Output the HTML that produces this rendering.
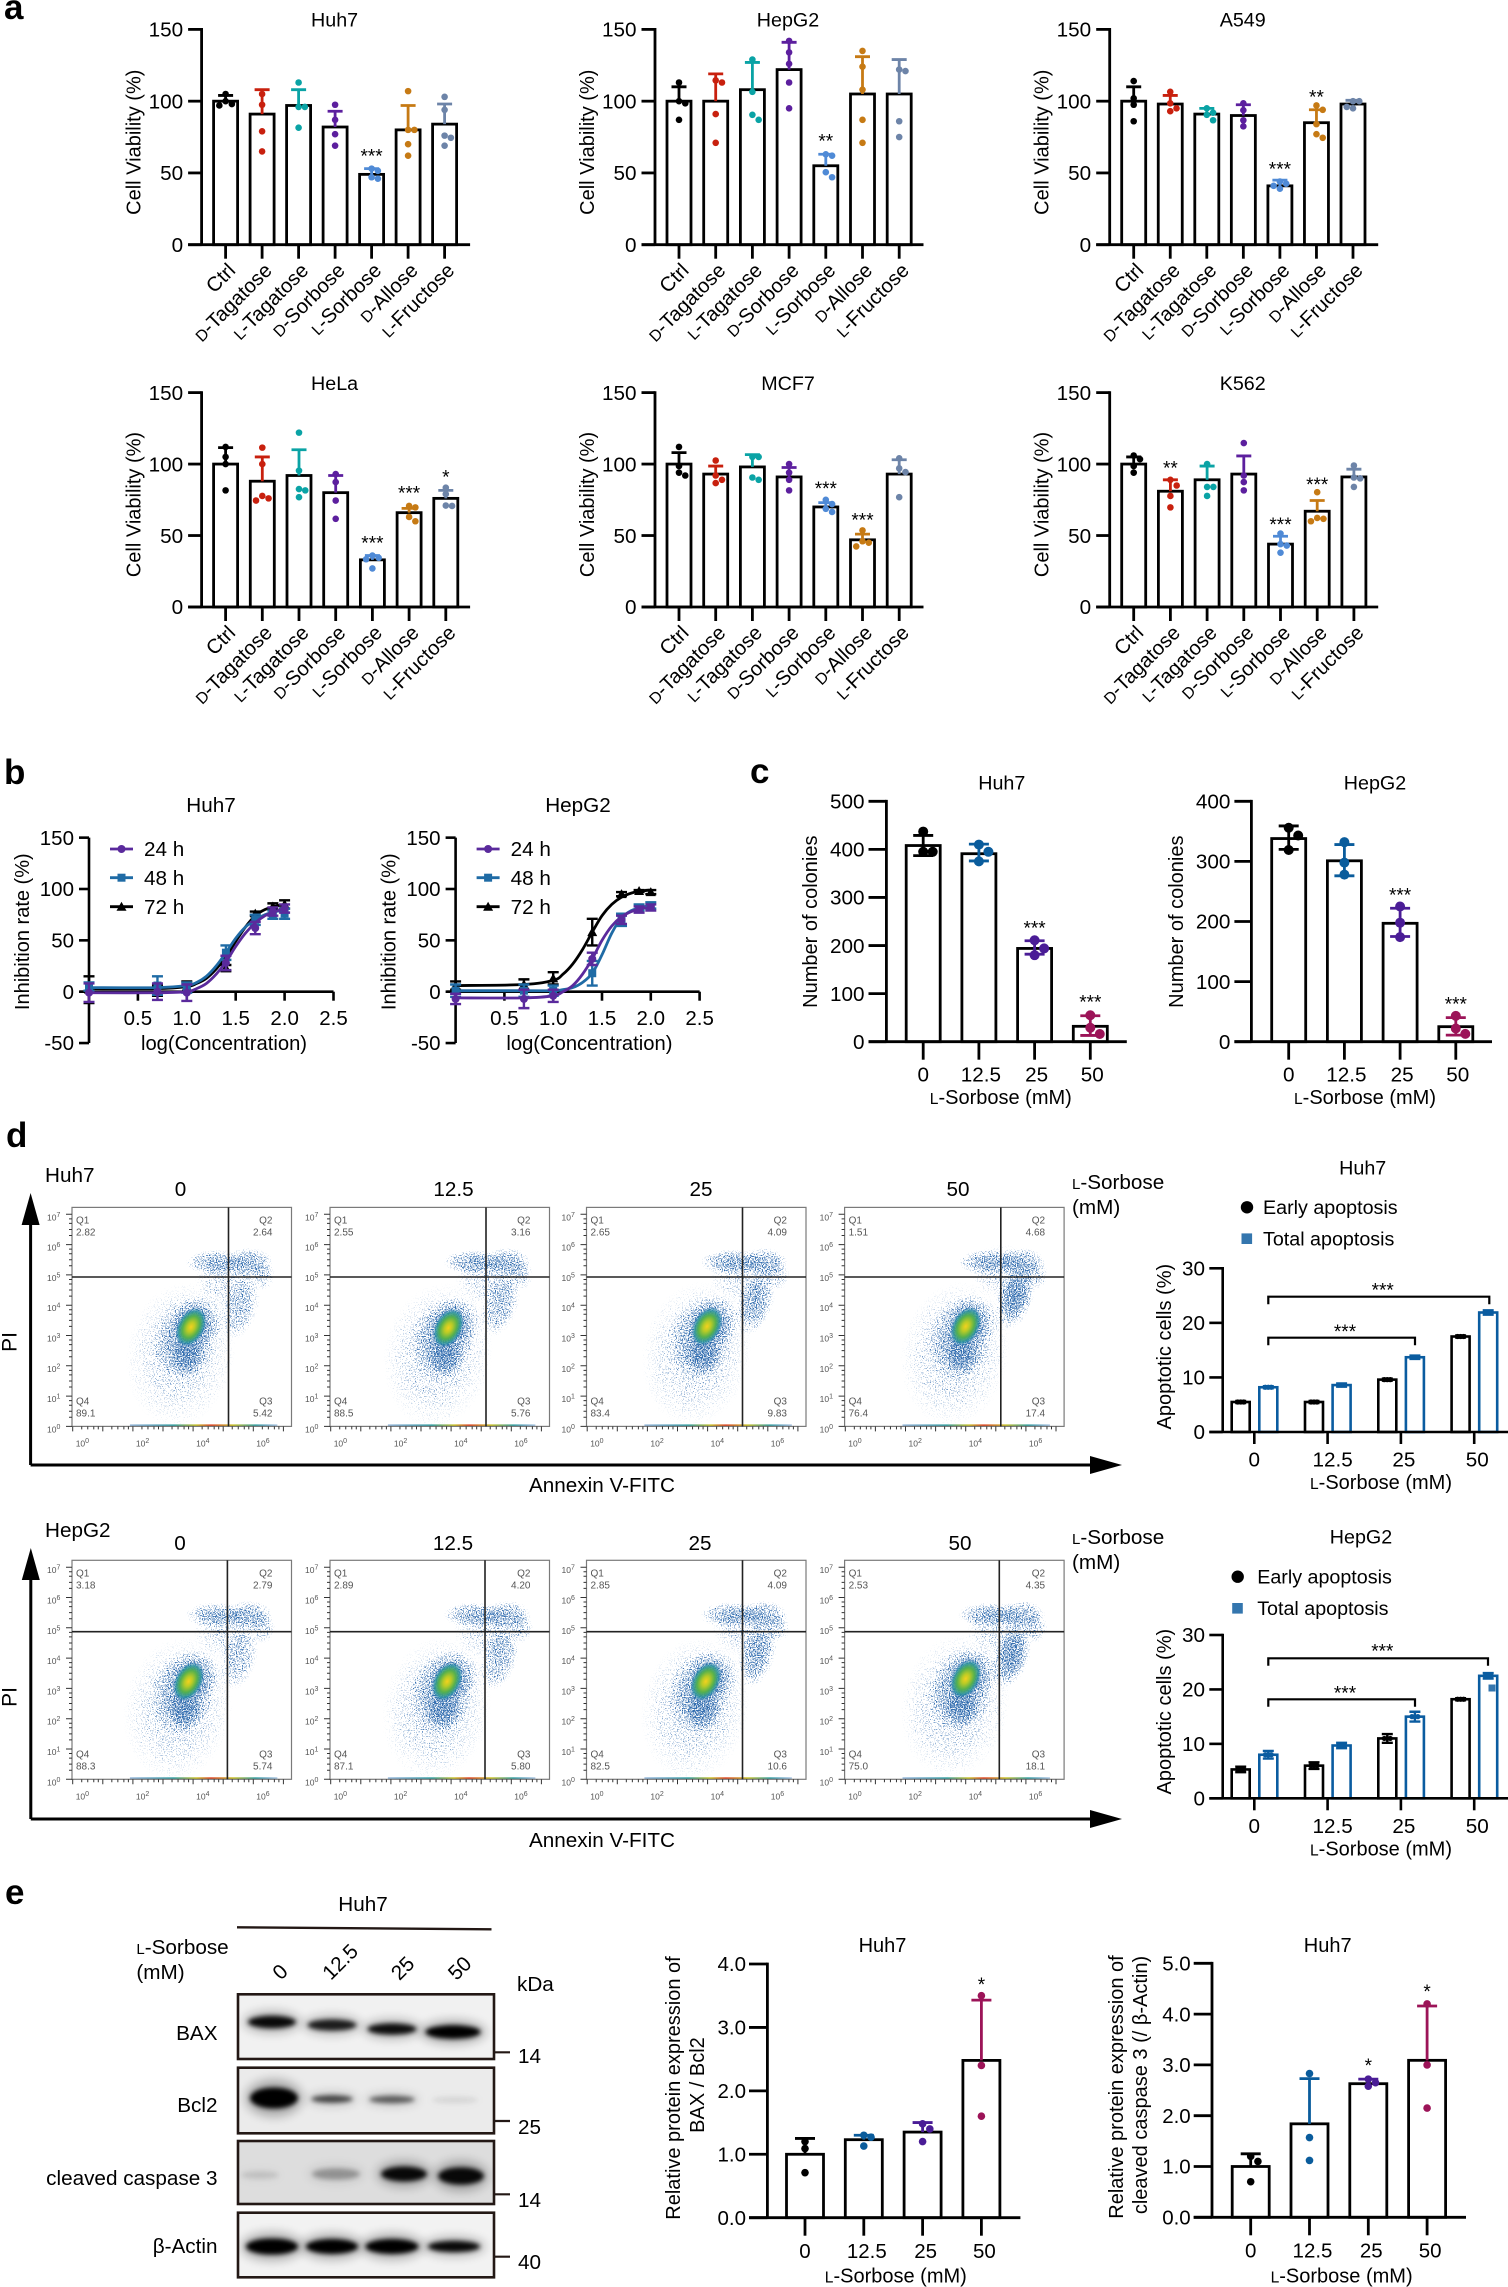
<!DOCTYPE html>
<html lang="en">
<head>
<meta charset="utf-8">
<title>L-Sorbose cell viability figure</title>
<style>
html,body{margin:0;padding:0;background:#fff}
#figure{display:block;font-family:"Liberation Sans",Arial,sans-serif;fill:#000}
</style>
</head>
<body>
<svg id="figure" xmlns="http://www.w3.org/2000/svg" width="1508" height="2287" viewBox="0 0 1508 2287">
<defs>
<radialGradient id="blobGrad"><stop offset="0" stop-color="#000" stop-opacity="1"/><stop offset="0.55" stop-color="#000" stop-opacity="0.72"/><stop offset="1" stop-color="#000" stop-opacity="0"/></radialGradient>
<radialGradient id="coreGrad"><stop offset="0" stop-color="#f4d11f"/><stop offset="0.25" stop-color="#b9cb26"/><stop offset="0.55" stop-color="#55b04e"/><stop offset="0.8" stop-color="#2b93a0" stop-opacity="0.85"/><stop offset="1" stop-color="#1d6fb0" stop-opacity="0"/></radialGradient>
<linearGradient id="rainbow"><stop offset="0" stop-color="#2a70b8" stop-opacity="0.5"/><stop offset="0.3" stop-color="#2fa0a0"/><stop offset="0.45" stop-color="#c8c020"/><stop offset="0.55" stop-color="#e04020"/><stop offset="0.7" stop-color="#c8c020"/><stop offset="0.85" stop-color="#2fa0a0"/><stop offset="1" stop-color="#2a70b8" stop-opacity="0.4"/></linearGradient>
<filter id="speckle" x="-10%" y="-10%" width="120%" height="120%" color-interpolation-filters="sRGB">
<feTurbulence type="fractalNoise" baseFrequency="0.85" numOctaves="2" seed="4" result="n"/>
<feColorMatrix in="n" type="matrix" values="0 0 0 0 0 0 0 0 0 0 0 0 0 0 0 0 0 0 2.8 -0.9" result="na"/>
<feComposite in="SourceAlpha" in2="na" operator="arithmetic" k1="0" k2="1" k3="1" k4="-1" result="sum"/>
<feComponentTransfer in="sum" result="th"><feFuncA type="linear" slope="4" intercept="0"/></feComponentTransfer>
<feFlood flood-color="#1d5ea8" flood-opacity="0.9"/>
<feComposite in2="th" operator="in"/>
</filter>
<filter id="bandBlur" x="-30%" y="-80%" width="160%" height="260%"><feGaussianBlur stdDeviation="2.4"/></filter>
<filter id="softBlur" x="-30%" y="-80%" width="160%" height="260%"><feGaussianBlur stdDeviation="5"/></filter>
</defs>

<g font-weight="700" font-size="35">
<text x="4" y="19">a</text>
<text x="4" y="784">b</text>
<text x="750" y="783">c</text>
<text x="6" y="1147">d</text>
<text x="5" y="1904">e</text>
</g>

<g id="panelA"></g>
<g id="panelB"></g>
<g id="panelC"></g>

<g id="panelD" font-size="20.7">
<path d="M30.6 1465V1220M30.6 1465H1100" fill="none" stroke="#000" stroke-width="3"/>
<path d="M30.6 1193L39.6 1225H21.6Z"/>
<path d="M1122 1465L1090 1456V1474Z"/>
<path d="M30.8 1819V1570M30.8 1819H1100" fill="none" stroke="#000" stroke-width="3"/>
<path d="M30.8 1548L39.8 1580H21.8Z"/>
<path d="M1122 1819L1090 1810V1828Z"/>
<text transform="rotate(-90 9 1342)" x="9" y="1342" text-anchor="middle" dy=".35em" font-size="21">PI</text>
<text transform="rotate(-90 9 1697)" x="9" y="1697" text-anchor="middle" dy=".35em" font-size="21">PI</text>
<text x="602" y="1485" text-anchor="middle" dy=".35em">Annexin V-FITC</text>
<text x="602" y="1840" text-anchor="middle" dy=".35em">Annexin V-FITC</text>
<text x="45" y="1175" dy=".35em">Huh7</text>
<text x="45" y="1530" dy=".35em">HepG2</text>
<text x="180.5" y="1189" text-anchor="middle" dy=".35em">0</text>
<text x="453.5" y="1189" text-anchor="middle" dy=".35em">12.5</text>
<text x="701" y="1189" text-anchor="middle" dy=".35em">25</text>
<text x="958" y="1189" text-anchor="middle" dy=".35em">50</text>
<text x="180" y="1543" text-anchor="middle" dy=".35em">0</text>
<text x="453" y="1543" text-anchor="middle" dy=".35em">12.5</text>
<text x="700" y="1543" text-anchor="middle" dy=".35em">25</text>
<text x="960" y="1543" text-anchor="middle" dy=".35em">50</text>
<text x="1072" y="1182" dy=".35em"><tspan font-size="15">L</tspan>-Sorbose</text>
<text x="1072" y="1207" dy=".35em">(mM)</text>
<text x="1072" y="1537" dy=".35em"><tspan font-size="15">L</tspan>-Sorbose</text>
<text x="1072" y="1562" dy=".35em">(mM)</text>
</g>
<g id="panelDBars"></g>

<g id="panelE" font-size="20.7">
<text x="363" y="1904" text-anchor="middle" dy=".35em">Huh7</text>
<path d="M237 1927.3L491.5 1929.3" stroke="#231815" stroke-width="2.4" fill="none"/>
<text x="136.4" y="1946.7" dy=".35em"><tspan font-size="15">L</tspan>-Sorbose</text>
<text x="136.4" y="1971.7" dy=".35em">(mM)</text>
<text transform="rotate(-45 280 1971.7)" x="280" y="1971.7" text-anchor="middle" dy=".35em">0</text>
<text transform="rotate(-45 340 1961.7)" x="340" y="1961.7" text-anchor="middle" dy=".35em">12.5</text>
<text transform="rotate(-45 402.5 1968)" x="402.5" y="1968" text-anchor="middle" dy=".35em">25</text>
<text transform="rotate(-45 459.5 1968)" x="459.5" y="1968" text-anchor="middle" dy=".35em">50</text>
<text x="517" y="1984" dy=".35em">kDa</text>
<text x="217.5" y="2033" text-anchor="end" dy=".35em">BAX</text>
<text x="217.5" y="2105" text-anchor="end" dy=".35em">Bcl2</text>
<text x="217.5" y="2177.7" text-anchor="end" dy=".35em">cleaved caspase 3</text>
<text x="217.5" y="2245.7" text-anchor="end" dy=".35em" style="font-family:'Liberation Sans','DejaVu Sans',sans-serif">β-Actin</text>
<g id="blots"></g>
<path d="M494 2052.3H510M494 2121H510M494 2194.3H510M494 2256.7H510" stroke="#231815" stroke-width="2.2" fill="none"/>
<text x="518" y="2055.7" dy=".35em">14</text>
<text x="518" y="2126.7" dy=".35em">25</text>
<text x="518" y="2200" dy=".35em">14</text>
<text x="518" y="2261.7" dy=".35em">40</text>
</g>
<g id="panelEBars"></g>
</svg>
<script>
/* ---------- panel a data ---------- */
const sugarCategories = ['Ctrl','D-Tagatose','L-Tagatose','D-Sorbose','L-Sorbose','D-Allose','L-Fructose'];
const sugarColors = ['#000000','#c8200e','#0aa3a5','#5c1f9e','#4f8ad6','#c67a14','#6d84a8'];
const viabilityTicks = [0,50,100,150];

const huh7Means = [100,91,97,82,49,80,84];
const huh7Upper = [104,108,108,93,53,97,98];
const huh7Points = [[105,98,97,100],[105,97.5,79,65],[113,96,96,81.5],[97.5,87,77,69],[53,51.5,46,47],[107,80,80,70,62],[103,94,76,74.5,69]];
const huh7Stars = ['','','','','***','',''];
const huh7StarLevels = [0,0,0,0,65,0,0];

const hepg2Means = [100,100,108,122,55,105,105];
const hepg2Upper = [110,119,127,141,63,131,129];
const hepg2Points = [[113,100,98.5,87],[114.5,113,91,71],[129,106.5,90.5,87],[142,134,126,113,95],[63,62,50.5,47],[135,124,108,87,71],[122,121,86,75]];
const hepg2Stars = ['','','','','**','',''];
const hepg2StarLevels = [0,0,0,0,75.5,0,0];

const a549Means = [100,98,91,90,41,85,98];
const a549Upper = [110,104,95,97.5,45,94,100.6];
const a549Points = [[114,102,97.5,86],[106.5,98.5,95,93],[95,92,90.5,86.7],[98.5,93.7,86.7,82.5],[44,42.5,41,39],[97,94,84,77,74.5],[100,100,96,95]];
const a549Stars = ['','','','','***','**',''];
const a549StarLevels = [0,0,0,0,56,106,0];

const helaMeans = [100,88,92,80,33,66,76];
const helaUpper = [111.5,105,110,92,36,69,81.6];
const helaPoints = [[112,105,100,81.6],[111.5,100,77.7,76,74.5],[122,95.4,82.5,81.6,76.8],[93,87.4,74.5,61.7],[36,34.4,33.4,27],[70.7,69.7,63,60],[83.5,79,71,70.7]];
const helaStars = ['','','','','***','***','*'];
const helaStarLevels = [0,0,0,0,48,83,94];

const mcf7Means = [100,93,98,91,70,47,93];
const mcf7Upper = [108,98.6,106.6,97.6,73,51,103];
const mcf7Points = [[112,98.6,94,92],[102.5,92,89,86.7],[105,105,89,90.6],[100,94,89,81.6],[75,72,68.7,66.5],[53.6,46,45,42.4],[104,97,94.4,76.8]];
const mcf7Stars = ['','','','','***','***',''];
const mcf7StarLevels = [0,0,0,0,86,64,0];

const k562Means = [100,81,89,93,44,67,91];
const k562Upper = [105,89,98.6,105.7,49.5,74.5,96.4];
const k562Points = [[106,103.4,98.6,94],[89,85,77.7,69.7],[100,84,84,77.7],[114.7,92,87.4,81.6],[51.4,44,43,38],[80.3,62.3,61.7,60],[99,90.6,90,84]];
const k562Stars = ['','**','','','***','***',''];
const k562StarLevels = [0,100.5,0,0,61,89,0];

/* ---------- panel b data ---------- */
const logConcentration = [0,0.7,1,1.4,1.7,1.88,2];
const fitGrid = [0,0.7,1,1.1,1.2,1.3,1.4,1.5,1.6,1.7,1.8,1.9,2];
const doseTicksB = [0.5,1.0,1.5,2.0,2.5];
const inhibitionTicks = [-50,0,50,100,150];
const timeLabels = ['24 h','48 h','72 h'];
const timeColors = ['#5a2a9c','#1f6ba5','#000000'];

const huh7Inhib24 = [-1,0,-1,28,62,78,81];
const huh7Inhib48 = [5,6,4,38,70,75,76];
const huh7Inhib72 = [2,1,5,23,76,83,85];
const huh7Sd24 = [9,8,8,7,6,4,4];
const huh7Sd48 = [4,9,5,7,5,4,5];
const huh7Sd72 = [13,5,5,3,2,3,4];
const huh7Fit24 = [-1,-1,0,3,8,17,29,44,57,67,74,78,81];
const huh7Fit48 = [4,4,6,9,15,25,38,52,63,70,75,78,79];
const huh7Fit72 = [3,3,5,8,13,22,34,49,63,74,80,83,85];

const hepg2Inhib24 = [-7,-7,-4,32,70,80,82];
const hepg2Inhib48 = [1,1,1,18,70,82,84];
const hepg2Inhib72 = [6,7,13,58,95,98,97];
const hepg2Sd24 = [5,9,6,6,4,3,3];
const hepg2Sd48 = [6,6,5,12,6,3,3];
const hepg2Sd72 = [4,5,6,13,2,1,2];
const hepg2Fit24 = [-6,-6,-4,0,6,17,32,50,64,73,78,81,82];
const hepg2Fit48 = [1,1,1,2,4,9,18,36,57,72,79,82,84];
const hepg2Fit72 = [6,7,11,17,27,41,58,74,85,92,96,98,99];

/* ---------- panel c data ---------- */
const doseCategories = ['0','12.5','25','50'];
const doseColors = ['#000000','#0a5c9c','#4a1c96','#9c1458'];
const colonyHuh7Ticks = [0,100,200,300,400,500];
const colonyHepg2Ticks = [0,100,200,300,400];
const colonyHuh7Means = [408,391,194,32];
const colonyHuh7Upper = [429,411,210,54];
const colonyHuh7Lower = [387,376,182,13];
const colonyHuh7Points = [[437,395,395],[410,395,375],[211,194,180],[55,29,16]];
const colonyHuh7Stars = ['','','***','***'];
const colonyHuh7StarLevels = [0,0,246,92];
const colonyHepg2Means = [338,301,197,25];
const colonyHepg2Upper = [359,328,222,40];
const colonyHepg2Lower = [320,276,175,11];
const colonyHepg2Points = [[356,343,319],[332,298,278],[225,198,174],[43,22,13]];
const colonyHepg2Stars = ['','','***','***'];
const colonyHepg2StarLevels = [0,0,252,70];

/* ---------- panel d data ---------- */
const apoptosisTicks = [0,10,20,30];
const apoptosisHuh7Early = [5.5,5.5,9.6,17.5];
const apoptosisHuh7Total = [8.2,8.6,13.7,21.9];
const apoptosisHuh7EarlySd = [0.2,0.2,0.2,0.2];
const apoptosisHuh7TotalSd = [0.2,0.3,0.3,0.4];
const apoptosisHepg2Early = [5.3,6,11,18.2];
const apoptosisHepg2Total = [8,9.7,15,22.5];
const apoptosisHepg2EarlySd = [0.5,0.6,0.8,0.2];
const apoptosisHepg2TotalSd = [0.7,0.5,0.9,0.5];

const flowHuh7Q1 = ['2.82','2.55','2.65','1.51'];
const flowHuh7Q2 = ['2.64','3.16','4.09','4.68'];
const flowHuh7Q3 = ['5.42','5.76','9.83','17.4'];
const flowHuh7Q4 = ['89.1','88.5','83.4','76.4'];
const flowHepg2Q1 = ['3.18','2.89','2.85','2.53'];
const flowHepg2Q2 = ['2.79','4.20','4.09','4.35'];
const flowHepg2Q3 = ['5.74','5.80','10.6','18.1'];
const flowHepg2Q4 = ['88.3','87.1','82.5','75.0'];
const flowHuh7CoreX = [3.93,3.91,3.98,4.0];
const flowHuh7CoreY = [3.43,3.4,3.45,3.45];
const flowHuh7StreakX = [5.55,5.63,5.58,5.64];
const flowHuh7StreakY = [3.92,4.03,4.1,4.27];
const flowHuh7StreakDensity = [0.46,0.48,0.6,0.76];
const flowHepg2CoreX = [3.85,3.87,3.94,4.0];
const flowHepg2CoreY = [3.38,3.38,3.38,3.47];
const flowHepg2StreakX = [5.52,5.6,5.64,5.52];
const flowHepg2StreakY = [4.0,4.0,4.1,4.08];
const flowHepg2StreakDensity = [0.42,0.5,0.62,0.74];
const flowDecades = [0,1,2,3,4,5,6,7];

/* ---------- panel e data ---------- */
const ratioTicks = [0,1,2,3,4];
const caspaseTicks = [0,1,2,3,4,5];
const ratioMeans = [1.0,1.23,1.35,2.48];
const ratioUpper = [1.25,1.3,1.5,3.43];
const ratioPoints = [[1.2,1.09,0.71],[1.3,1.27,1.13],[1.48,1.4,1.2],[3.5,2.4,1.6]];
const ratioStars = ['','','','*'];
const ratioStarLevels = [0,0,0,3.75];
const caspaseMeans = [1.0,1.84,2.63,3.09];
const caspaseUpper = [1.25,2.73,2.72,4.16];
const caspasePoints = [[1.2,1.1,0.7],[2.83,1.57,1.12],[2.72,2.65,2.58],[4.2,3.0,2.15]];
const caspaseStars = ['','','*','*'];
const caspaseStarLevels = [0,0,3.08,4.53];

const blotDensityBax = [0.95,0.85,0.92,1];
const blotDensityBcl2 = [1,0.65,0.55,0.07];
const blotDensityCaspase = [0.1,0.28,0.95,0.95];
const blotDensityActin = [1,1,1,0.95];

/* ---------- helpers ---------- */
const NS = 'http://www.w3.org/2000/svg';
function mk(tag, attrs, parent){
  const el = document.createElementNS(NS, tag);
  for (const k in attrs) el.setAttribute(k, attrs[k]);
  parent.appendChild(el);
  return el;
}
function putLabel(el, text){
  const m = /^(L|D)-(.*)$/.exec(text);
  if (m){
    const small = mk('tspan', {'font-size':'0.78em'}, el);
    small.textContent = m[1];
    el.appendChild(document.createTextNode('-' + m[2]));
  } else {
    el.textContent = text;
  }
}
function label(parent, x, y, text, size, anchor, rotate){
  const attrs = {x:x, y:y, 'font-size':size, 'text-anchor':anchor, dy:'.35em'};
  if (rotate) attrs.transform = `rotate(${rotate} ${x} ${y})`;
  const el = mk('text', attrs, parent);
  putLabel(el, text);
  return el;
}
/* spreads tied replicate dots sideways, as a scatter-dot bar plot does */
function swarm(values, yOf, r){
  const sorted = values.slice().sort((a,b)=>b-a);
  const placed = [];
  sorted.forEach(v=>{
    const py = yOf(v);
    const slots = [0,1,-1,2,-2,3,-3];
    for (const s of slots){
      const px = s*r*1.9;
      if (placed.every(p=>Math.hypot(p.px-px,p.py-py) >= r*1.75)){ placed.push({px,py}); break; }
    }
  });
  return placed;
}

/* generic scatter-dot bar chart */
function barChart(root, c){
  const g = mk('g', {}, root);
  
  
  const yOf = v => c.yZero - v*(c.yZero-c.yTop)/c.max;
  const xOf = i => c.xFirst + i*c.step;

  c.means.forEach((m,i)=>{
    const col = c.colors[i];
    const bar = mk('rect', {x:xOf(i)-c.barW/2, y:yOf(m), width:c.barW, height:c.yZero-yOf(m), fill:'#fff', stroke:'#000', 'stroke-width':c.sw}, g);
    
    
    const low = c.lower ? c.lower[i] : m;
    const err = mk('path', {d:`M${xOf(i)} ${yOf(low)}V${yOf(c.upper[i])}M${xOf(i)-c.cap/2} ${yOf(c.upper[i])}h${c.cap}` + (c.lower?`M${xOf(i)-c.cap/2} ${yOf(low)}h${c.cap}`:''), stroke:col, 'stroke-width':c.sw, fill:'none'}, g);
    
    
    swarm(c.points[i], yOf, c.r).forEach(p=>{
      const dot = mk('circle', {cx:xOf(i)+p.px, cy:p.py, r:c.r, fill:col}, g);
      
      
    });
    if (c.stars[i]){
      const st = mk('text', {x:xOf(i), y:yOf(c.starLevels[i])+c.starSize*0.58, 'font-size':c.starSize, 'text-anchor':'middle'}, g);
      st.textContent = c.stars[i];
      
      
    }
    const tick = mk('line', {x1:xOf(i), x2:xOf(i), y1:c.yZero, y2:c.yZero+c.tickLen, stroke:'#000', 'stroke-width':c.sw}, g);
    
    
    let tl;
    if (c.rotateCats) tl = mk('text', {x:xOf(i)+c.catDx, y:c.yZero+c.catDy, 'font-size':c.catFs||c.fs, 'text-anchor':'end', transform:`rotate(-45 ${xOf(i)+c.catDx} ${c.yZero+c.catDy})`}, g);
    else tl = mk('text', {x:xOf(i)+(c.catDx||0)*(i?1:0), y:c.yZero+c.catDy, 'font-size':c.fs, 'text-anchor':'middle', dy:'.35em'}, g);
    putLabel(tl, c.cats[i]);
    
    
  });

  const axis = mk('path', {d:`M${c.axisX} ${c.yTop-c.sw/2}V${c.yZero}M${c.xL} ${c.yZero}H${c.xR}`, stroke:'#000', 'stroke-width':c.sw, fill:'none'}, g);
  
  
  c.ticks.forEach(t=>{
    const tk = mk('line', {x1:c.xL, x2:c.axisX, y1:yOf(t), y2:yOf(t), stroke:'#000', 'stroke-width':c.sw}, g);
    
    
    const tl = label(g, c.xL-c.labelGap, yOf(t), c.fmt ? t.toFixed(1) : String(t), c.fs, 'end');
    
    
  });
  const title = label(g, c.titleX, c.titleY, c.title, c.titleSize||19, 'middle');
  
  
  c.ylabels.forEach(y=>{
    const yl = label(g, y.x, y.y, y.text, c.ylabelSize||20, 'middle', -90);
    
    
  });
  if (c.xlabel){
    const xl = label(g, c.xlabel.x, c.xlabel.y, c.xlabel.text, 20, 'middle');
    
    
  }
}

/* ---------- panel a ---------- */
const panelA = document.getElementById('panelA');
const aCharts = [
 {id:'huh7',title:'Huh7',col:0,row:0,step:36.5,means:huh7Means,upper:huh7Upper,points:huh7Points,stars:huh7Stars,starLevels:huh7StarLevels},
 {id:'hepg2',title:'HepG2',col:1,row:0,step:36.7,means:hepg2Means,upper:hepg2Upper,points:hepg2Points,stars:hepg2Stars,starLevels:hepg2StarLevels},
 {id:'a549',title:'A549',col:2,row:0,step:36.55,means:a549Means,upper:a549Upper,points:a549Points,stars:a549Stars,starLevels:a549StarLevels},
 {id:'hela',title:'HeLa',col:0,row:1,step:36.7,means:helaMeans,upper:helaUpper,points:helaPoints,stars:helaStars,starLevels:helaStarLevels},
 {id:'mcf7',title:'MCF7',col:1,row:1,step:36.7,means:mcf7Means,upper:mcf7Upper,points:mcf7Points,stars:mcf7Stars,starLevels:mcf7StarLevels},
 {id:'k562',title:'K562',col:2,row:1,step:36.7,means:k562Means,upper:k562Upper,points:k562Points,stars:k562Stars,starLevels:k562StarLevels}
];
const aAxisX = [201.6,655,1109.7];
const aRowTop = [29.4,392.6];
const aRowZero = [244.7,607];
aCharts.forEach(a=>{
  const ax = aAxisX[a.col], top = aRowTop[a.row], zero = aRowZero[a.row];
  barChart(panelA, Object.assign({}, a, {
    axisX:ax, xFirst:ax+24, xL:ax-13.5, xR:ax+268.5, yTop:top, yZero:zero, max:150,
    ticks:viabilityTicks, cats:sugarCategories, colors:sugarColors, lower:null,
    barW:24, sw:2.8, cap:15, r:3.3, starSize:19, tickLen:14, fs:20.7, catFs:20.3, labelGap:5,
    rotateCats:true, catDx:11, catDy:27,
    titleX:ax+133, titleY:top-9.7, titleSize:19.7,
    ylabels:[{x:ax-68,y:zero-102.5,text:'Cell Viability (%)'}]
  }));
});

/* ---------- panel b ---------- */
const panelB = document.getElementById('panelB');
function doseResponse(root, c){
  const g = mk('g', {}, root);
  
  
  const xOf = v => c.axisX + v*c.unit;
  const yOf = v => 991.7 - v*1.027;
  const axis = mk('path', {d:`M${c.axisX} ${yOf(150)}V${yOf(-50)}M${c.axisX-9} ${yOf(0)}H${xOf(2.5)}`, stroke:'#000', 'stroke-width':2.6, fill:'none'}, g);
  
  
  inhibitionTicks.forEach(t=>{
    const tk = mk('line', {x1:c.axisX-10, x2:c.axisX, y1:yOf(t), y2:yOf(t), stroke:'#000', 'stroke-width':2.6}, g);
    
    
    const tl = label(g, c.axisX-15, yOf(t), String(t), 20.5, 'end');
    
    
  });
  doseTicksB.forEach(t=>{
    const tk = mk('line', {x1:xOf(t), x2:xOf(t), y1:yOf(0), y2:yOf(0)+9, stroke:'#000', 'stroke-width':2.6}, g);
    
    
    const tl = label(g, xOf(t), 1018, t.toFixed(1), 20.5, 'middle');
    
    
  });
  [2,1,0].forEach(s=>{
    const col = timeColors[s];
    const pts = fitGrid.map((x,i)=>[xOf(x), yOf(c.fits[s][i])]);
    let d = `M${pts[0][0]} ${pts[0][1]}`;
    for (let i=0;i<pts.length-1;i++){
      const p0=pts[Math.max(i-1,0)],p1=pts[i],p2=pts[i+1],p3=pts[Math.min(i+2,pts.length-1)];
      d += `C${p1[0]+(p2[0]-p0[0])/6} ${p1[1]+(p2[1]-p0[1])/6} ${p2[0]-(p3[0]-p1[0])/6} ${p2[1]-(p3[1]-p1[1])/6} ${p2[0]} ${p2[1]}`;
    }
    const curve = mk('path', {d:d, fill:'none', stroke:col, 'stroke-width':2.8}, g);
    
    
    logConcentration.forEach((x,i)=>{
      const v = c.values[s][i], e = c.sds[s][i], px = xOf(x);
      const err = mk('path', {d:`M${px} ${yOf(v-e)}V${yOf(v+e)}M${px-5.5} ${yOf(v-e)}h11M${px-5.5} ${yOf(v+e)}h11`, fill:'none', stroke:col, 'stroke-width':2.4}, g);
      
      
      const mark = marker(g, s, px, yOf(v), col);
      
      
    });
  });
  const title = label(g, c.titleX, 805, c.title, 20.7, 'middle');
  
  
  const yl = label(g, c.axisX-67, 931.7, 'Inhibition rate (%)', 20, 'middle', -90);
  
  
  const xl = label(g, c.xlabelX, 1042.7, 'log(Concentration)', 20.2, 'middle');
  
  
  timeLabels.forEach((t,s)=>{
    const ly = [849,877.7,906.7][s];
    const line = mk('line', {x1:c.axisX+21,x2:c.axisX+44,y1:ly,y2:ly,stroke:timeColors[s],'stroke-width':2.8}, g);
    
    
    const m = marker(g, s, c.axisX+32.5, ly, timeColors[s]);
    
    
    const lt = label(g, c.axisX+55, ly, t, 20.7, 'start');
    
    
  });
}
function marker(g, s, x, y, col){
  if (s===0) return mk('circle', {cx:x, cy:y, r:4, fill:col}, g);
  if (s===1) return mk('rect', {x:x-4, y:y-4, width:8, height:8, fill:col}, g);
  return mk('path', {d:`M${x} ${y-5}L${x+5} ${y+4}H${x-5}Z`, fill:col}, g);
}
doseResponse(panelB, {id:'huh7',title:'Huh7',axisX:89,unit:97.8,titleX:211,xlabelX:224,
  values:[huh7Inhib24,huh7Inhib48,huh7Inhib72],sds:[huh7Sd24,huh7Sd48,huh7Sd72],fits:[huh7Fit24,huh7Fit48,huh7Fit72]});
doseResponse(panelB, {id:'hepg2',title:'HepG2',axisX:455.6,unit:97.6,titleX:578,xlabelX:589.4,
  values:[hepg2Inhib24,hepg2Inhib48,hepg2Inhib72],sds:[hepg2Sd24,hepg2Sd48,hepg2Sd72],fits:[hepg2Fit24,hepg2Fit48,hepg2Fit72]});

/* ---------- panel c ---------- */
const panelC = document.getElementById('panelC');
const cBase = {cats:doseCategories,colors:doseColors,barW:34,sw:2.8,cap:20,r:5,starSize:19,tickLen:18,fs:20.7,labelGap:4,rotateCats:false,catDx:2,catDy:32.5,yTop:801.3,yZero:1041.7,step:55.7,titleY:782.7,titleSize:19.7};
barChart(panelC, Object.assign({}, cBase, {id:'colony-huh7',title:'Huh7',axisX:886.4,xFirst:923.2,xL:868.5,xR:1126.8,max:500,ticks:colonyHuh7Ticks,
  means:colonyHuh7Means,upper:colonyHuh7Upper,lower:colonyHuh7Lower,points:colonyHuh7Points,stars:colonyHuh7Stars,starLevels:colonyHuh7StarLevels,
  titleX:1001.8,ylabels:[{x:810,y:921.7,text:'Number of colonies'}],xlabel:{x:1000.8,y:1097,text:'L-Sorbose (mM)'}}));
barChart(panelC, Object.assign({}, cBase, {id:'colony-hepg2',title:'HepG2',axisX:1251.4,xFirst:1288.7,xL:1234.4,xR:1492,max:400,ticks:colonyHepg2Ticks,
  means:colonyHepg2Means,upper:colonyHepg2Upper,lower:colonyHepg2Lower,points:colonyHepg2Points,stars:colonyHepg2Stars,starLevels:colonyHepg2StarLevels,
  titleX:1375,ylabels:[{x:1176,y:921.7,text:'Number of colonies'}],xlabel:{x:1365,y:1097,text:'L-Sorbose (mM)'}}));

/* ---------- panel d: flow plots ---------- */
const panelD = document.getElementById('panelD');
function flowPlot(c){
  const g = mk('g', {}, panelD);
  
  
  const W = 219.5, H = 219;
  const xOf = d => c.x + 0.7 + d*30.1;
  const yOf = d => c.y + H - d*30.3;
  const clipId = 'clip-' + c.name;
  const cp = mk('clipPath', {id:clipId}, g);
  mk('rect', {x:c.x, y:c.y, width:W, height:H}, cp);

  const holder = mk('g', {'clip-path':`url(#${clipId})`}, g);
  const cloud = mk('g', {filter:'url(#speckle)'}, holder);
  
  
  /* invisible rect keeps the filter region stable across the plot */
  mk('rect', {x:c.x, y:c.y, width:W, height:H, fill:'#000', 'fill-opacity':0}, cloud);
  function blob(lx, ly, rx, ry, rot, a){
    const cx = xOf(lx), cy = yOf(ly);
    mk('ellipse', {cx:cx, cy:cy, rx:rx*30.1, ry:ry*30.3, fill:'url(#blobGrad)', 'fill-opacity':a, transform:`rotate(${rot} ${cx} ${cy})`}, cloud);
  }
  blob(c.coreX-0.35, c.coreY-1.05, 1.8, 2.4, 10, 0.26);
  blob(c.coreX-0.2, c.coreY-0.55, 1.05, 1.4, 12, 0.52);
  blob(c.coreX+0.25, c.coreY+0.05, 0.85, 0.85, 30, 0.48);
  blob(c.coreX-0.1, c.coreY-1.1, 0.6, 0.7, 0, 0.48);
  blob(c.streakX, c.streakY, 0.6, 1.1, 18, c.density);
  blob(c.streakX-0.45, c.streakY+0.85, 1.05, 0.9, 0, 0.26);
  blob(4.75, 5.42, 1.0, 0.42, 0, 0.54);
  blob(5.85, 5.4, 0.8, 0.5, 0, 0.56);
  blob(6.3, 5.0, 0.42, 0.5, 0, 0.34);

  const core = mk('ellipse', {cx:xOf(c.coreX), cy:yOf(c.coreY-0.15), rx:14, ry:21, fill:'url(#coreGrad)', transform:`rotate(28 ${xOf(c.coreX)} ${yOf(c.coreY-0.15)})`}, holder);
  
  

  const strip = mk('rect', {x:xOf(1.9), y:c.y+H-2, width:xOf(6.8)-xOf(1.9), height:2, fill:'url(#rainbow)'}, g);
  
  

  const frame = mk('rect', {x:c.x, y:c.y, width:W, height:H, fill:'none', stroke:'#7a7a7a', 'stroke-width':1.2}, g);
  
  
  const gateV = mk('line', {x1:c.vx, x2:c.vx, y1:c.y, y2:c.y+H, stroke:'#222', 'stroke-width':1.6}, g);
  
  
  const gateH = mk('line', {x1:c.x, x2:c.x+W, y1:c.hy, y2:c.hy, stroke:'#222', 'stroke-width':1.6}, g);
  
  

  let tickD = '';
  flowDecades.forEach(d=>{
    tickD += `M${c.x-6} ${yOf(d)}H${c.x}M${xOf(d)} ${c.y+H}v5`;
    if (d<7) [0.3,0.5,0.7,0.85].forEach(f=>{ tickD += `M${c.x-3} ${yOf(d+f)}H${c.x}M${xOf(d+f)} ${c.y+H}v3`; });
    const yl = mk('text', {x:c.x-25, y:yOf(d)+6, 'font-size':8.5, fill:'#555'}, g);
    yl.textContent = '10';
    const ySup = mk('tspan', {dy:-3.5, 'font-size':7}, yl);
    ySup.textContent = String(d);
    
    
    if (d%2===0 && d<7){
      const xl = mk('text', {x:xOf(d)+3, y:c.y+H+20, 'font-size':8.5, fill:'#555'}, g);
      xl.textContent = '10';
      const xSup = mk('tspan', {dy:-3.5, 'font-size':7}, xl);
      xSup.textContent = String(d);
      
      
    }
  });
  const ticks = mk('path', {d:tickD, stroke:'#333', 'stroke-width':1, fill:'none'}, g);
  
  

  [['Q1',c.q1,false,false],['Q2',c.q2,true,false],['Q4',c.q4,false,true],['Q3',c.q3,true,true]].forEach(q=>{
    const tx = q[2] ? c.x+W-19 : c.x+4;
    const ty = q[3] ? c.y+193.5 : c.y+12.7;
    const anchor = q[2] ? 'end' : 'start';
    const name = mk('text', {x:tx, y:ty+3.5, 'font-size':10, fill:'#555', 'text-anchor':anchor}, g);
    name.textContent = q[0];
    
    
    const val = mk('text', {x:tx, y:ty+15.5, 'font-size':10, fill:'#555', 'text-anchor':anchor}, g);
    val.textContent = q[1];
    
    
  });
}
const flowDoses = ['0','12-5','25','50'];
const flowBoxX = [72,330,586.5,844.6];
const flowGateHuh7 = [228.5,486,742.5,1000.8];
const flowGateHepg2 = [227.4,485,742.5,999.3];
flowDoses.forEach((d,i)=>{
  flowPlot({name:`huh7-flow-plot-${d}`,x:flowBoxX[i],y:1207.4,vx:flowGateHuh7[i],hy:1277,
    coreX:flowHuh7CoreX[i],coreY:flowHuh7CoreY[i],streakX:flowHuh7StreakX[i],streakY:flowHuh7StreakY[i],density:flowHuh7StreakDensity[i],
    q1:flowHuh7Q1[i],q2:flowHuh7Q2[i],q3:flowHuh7Q3[i],q4:flowHuh7Q4[i]});
  flowPlot({name:`hepg2-flow-plot-${d}`,x:flowBoxX[i],y:1560.3,vx:flowGateHepg2[i],hy:1631.7,
    coreX:flowHepg2CoreX[i],coreY:flowHepg2CoreY[i],streakX:flowHepg2StreakX[i],streakY:flowHepg2StreakY[i],density:flowHepg2StreakDensity[i],
    q1:flowHepg2Q1[i],q2:flowHepg2Q2[i],q3:flowHepg2Q3[i],q4:flowHepg2Q4[i]});
});

/* ---------- panel d: apoptosis bars ---------- */
const panelDBars = document.getElementById('panelDBars');
function apoptosisChart(c){
  const g = mk('g', {}, panelDBars);
  
  
  const yOf = v => c.yZero - v*(c.yZero-c.yTop)/30;
  const xOf = i => 1254.3 + i*73.3;
  const series = [
    {vals:c.early,sd:c.earlySd,col:'#000000',off:-13.6,name:'early'},
    {vals:c.total,sd:c.totalSd,col:'#0a5ca0',off:14,name:'total'}
  ];
  series.forEach(s=>{
    s.vals.forEach((v,i)=>{
      const x = xOf(i)+s.off;
      const bar = mk('rect', {x:x-9, y:yOf(v), width:18, height:c.yZero-yOf(v), fill:'#fff', stroke:s.col, 'stroke-width':2.6}, g);
      
      
      const e = s.sd[i];
      const err = mk('path', {d:`M${x} ${yOf(v-e)}V${yOf(v+e)}M${x-5.5} ${yOf(v-e)}h11M${x-5.5} ${yOf(v+e)}h11`, stroke:s.col, 'stroke-width':2.4, fill:'none'}, g);
      
      
      [-3,0,3].forEach(o=>{
        const dot = mk('circle', {cx:x+o, cy:yOf(v), r:2.6, fill:s.col}, g);
        
        
      });
    });
  });
  const axis = mk('path', {d:`M1222.7 ${c.yTop-1.3}V${c.yZero}M1209.3 ${c.yZero}H1508`, stroke:'#000', 'stroke-width':2.6, fill:'none'}, g);
  
  
  apoptosisTicks.forEach(t=>{
    const tk = mk('line', {x1:1209.3,x2:1222.7,y1:yOf(t),y2:yOf(t),stroke:'#000','stroke-width':2.6}, g);
    
    
    const tl = label(g, 1205, yOf(t), String(t), 20.7, 'end');
    
    
  });
  doseCategories.forEach((d,i)=>{
    const tk = mk('line', {x1:xOf(i),x2:xOf(i),y1:c.yZero,y2:c.yZero+12,stroke:'#000','stroke-width':2.6}, g);
    
    
    const tl = label(g, xOf(i)+(i?3:0)+(i===1?2:0), c.yZero+27.5, d, 20.7, 'middle');
    
    
  });
  c.brackets.forEach(b=>{
    const br = mk('path', {d:`M1268.3 ${b.y+7.5}V${b.y}H${b.x2}V${b.y+7.5}`, fill:'none', stroke:'#000', 'stroke-width':2.2}, g);
    
    
    const st = mk('text', {x:b.sx, y:b.sy+11, 'font-size':19, 'text-anchor':'middle'}, g);
    st.textContent = '***';
    
    
  });
  const title = label(g, c.titleX, c.titleY, c.title, 19.7, 'middle');
  
  
  const yl = label(g, 1164, (c.yZero+c.yTop)/2+(c.id==='huh7'?-3.5:-5), 'Apoptotic cells (%)', 20, 'middle', -90);
  
  
  const xl = label(g, 1381, c.yZero+50, 'L-Sorbose (mM)', 20, 'middle');
  
  
  const ld = mk('circle', {cx:c.legX+6,cy:c.legY1,r:6.2,fill:'#000'}, g);
  
  
  const ls = mk('rect', {x:c.legX+0.5,y:c.legY2-5.3,width:10.6,height:10.6,fill:'#3476ae'}, g);
  
  
  const lt1 = label(g, c.legX+c.legText, c.legY1, 'Early apoptosis', 19.7, 'start');
  
  
  const lt2 = label(g, c.legX+c.legText, c.legY2, 'Total apoptosis', 19.7, 'start');
  
  
}
apoptosisChart({id:'huh7',title:'Huh7',yTop:1268.3,yZero:1432,early:apoptosisHuh7Early,total:apoptosisHuh7Total,earlySd:apoptosisHuh7EarlySd,totalSd:apoptosisHuh7TotalSd,
  titleX:1362.7,titleY:1167.7,legX:1241,legText:22,legY1:1207.3,legY2:1238.7,
  brackets:[{y:1296.7,x2:1489.3,sx:1382.7,sy:1285.7},{y:1337.7,x2:1415,sx:1345,sy:1327}]});
apoptosisChart({id:'hepg2',title:'HepG2',yTop:1635,yZero:1798.3,early:apoptosisHepg2Early,total:apoptosisHepg2Total,earlySd:apoptosisHepg2EarlySd,totalSd:apoptosisHepg2TotalSd,
  titleX:1361,titleY:1536.7,legX:1231.7,legText:25.5,legY1:1576.7,legY2:1608.3,
  brackets:[{y:1658.3,x2:1488,sx:1382.3,sy:1646.7},{y:1699.3,x2:1415,sx:1345,sy:1688.3}]});
const stray = mk('rect', {x:1488.5,y:1684.5,width:7,height:7,fill:'#3476ae'}, panelDBars);



/* ---------- panel e: blots ---------- */
const blots = document.getElementById('blots');
const laneX = [272,332,392,453];
const blotRows = [
 {name:'bax',y:1994.3,h:64.7,bg:'#f1f1f1',band:2022,bh:[10,9,9,11],bw:[46,47,47,53],dy:[0,3,7,10],dx:[0,0,0,0],dens:blotDensityBax},
 {name:'bcl2',y:2067.7,h:65.6,bg:'#ebebeb',band:2098,bh:[17,6,6,5],bw:[46,40,44,44],dy:[0,1,1.5,2],dx:[2,0,0,2],dens:blotDensityBcl2},
 {name:'caspase',y:2141,h:63,bg:'#dddddd',band:2175,bh:[6,9,12,14],bw:[36,46,44,44],dy:[0,-1,-1,1],dx:[-12,4,12,8],dens:blotDensityCaspase},
 {name:'actin',y:2212.7,h:64.6,bg:'#f2f2f2',band:2246.5,bh:[13,12,12,9],bw:[50,50,51,50],dy:[0,0,0,0],dx:[0,0,0,1],dens:blotDensityActin}
];
blotRows.forEach(b=>{
  const g = mk('g', {}, blots);
  
  
  const cid = 'clip-blot-' + b.name;
  const cp = mk('clipPath', {id:cid}, g);
  mk('rect', {x:238,y:b.y,width:256,height:b.h}, cp);
  const bgr = mk('rect', {x:238,y:b.y,width:256,height:b.h,fill:b.bg}, g);
  
  
  const inner = mk('g', {'clip-path':`url(#${cid})`}, g);
  b.dens.forEach((den,i)=>{
    const halo = mk('ellipse', {cx:laneX[i]+b.dx[i],cy:b.band+b.dy[i],rx:b.bw[i]*0.62,ry:b.bh[i]*1.1,fill:'#000',opacity:den*0.28,filter:'url(#softBlur)'}, inner);
    
    
    const band = mk('ellipse', {cx:laneX[i]+b.dx[i],cy:b.band+b.dy[i],rx:b.bw[i]*0.52,ry:b.bh[i]*0.62,fill:'#000',opacity:den,filter:'url(#bandBlur)'}, inner);
    
    
  });
  const fr = mk('rect', {x:238,y:b.y,width:256,height:b.h,fill:'none',stroke:'#231815','stroke-width':2.6}, g);
  
  
});

/* ---------- panel e: quantification ---------- */
const panelEBars = document.getElementById('panelEBars');
const eBase = {cats:doseCategories,colors:doseColors,lower:null,barW:37,sw:2.8,cap:20,r:3.8,starSize:19,tickLen:18,fs:20.5,labelGap:3,rotateCats:false,catDx:3,catDy:33,step:58.8,titleY:1945,titleSize:20,fmt:true};
barChart(panelEBars, Object.assign({}, eBase, {id:'bax-bcl2-ratio',title:'Huh7',axisX:767.4,xFirst:805,xL:749,xR:1020.4,yTop:1964,yZero:2217.7,max:4,ticks:ratioTicks,
  means:ratioMeans,upper:ratioUpper,points:ratioPoints,stars:ratioStars,starLevels:ratioStarLevels,titleX:882.5,
  ylabels:[{x:673,y:2088,text:'Relative protein expression of'},{x:697,y:2085,text:'BAX / Bcl2'}],
  xlabel:{x:895.8,y:2275.7,text:'L-Sorbose (mM)'}}));
barChart(panelEBars, Object.assign({}, eBase, {id:'cleaved-caspase',title:'Huh7',axisX:1212,xFirst:1250.7,xL:1193.7,xR:1466,yTop:1963.3,yZero:2217.3,max:5,ticks:caspaseTicks,
  means:caspaseMeans,upper:caspaseUpper,points:caspasePoints,stars:caspaseStars,starLevels:caspaseStarLevels,titleX:1327.7,
  ylabels:[{x:1116,y:2087,text:'Relative protein expression of'},{x:1140,y:2085,text:'cleaved caspase 3 (/ β-Actin)'}],
  xlabel:{x:1341.6,y:2275.7,text:'L-Sorbose (mM)'}}));
</script>
</body>
</html>
